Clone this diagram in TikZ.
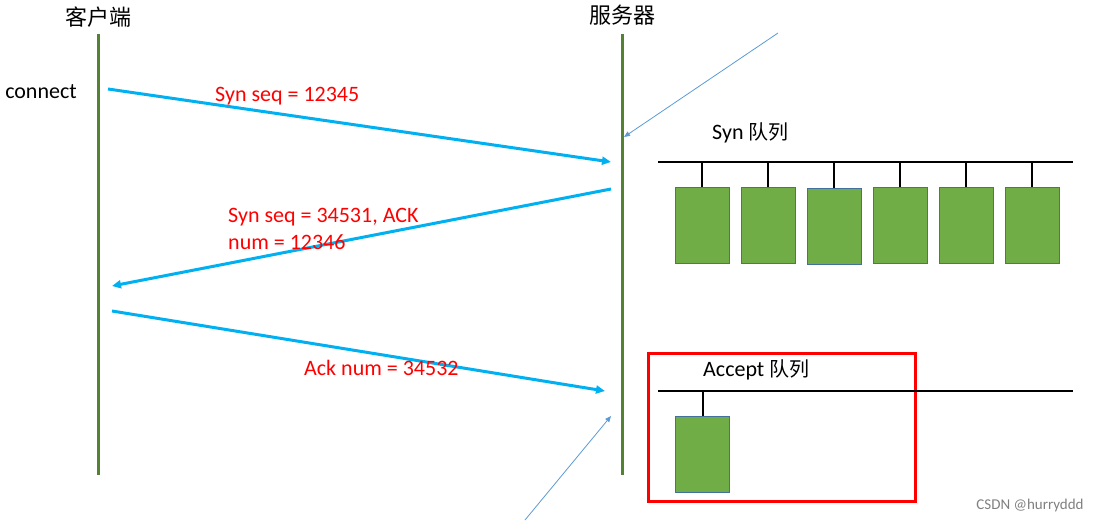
\documentclass[tikz,border=0pt]{standalone}
\usepackage{fontspec}
\setmainfont{Carlito}
\newfontfamily\cjk{Noto Sans CJK SC}
\usetikzlibrary{arrows.meta}
\definecolor{gline}{HTML}{548235}
\definecolor{cyanA}{HTML}{00B0F0}
\definecolor{thinB}{HTML}{5B9BD5}
\definecolor{boxG}{HTML}{70AD47}
\definecolor{boxB}{HTML}{41719C}
\begin{document}
\begin{tikzpicture}[x=1pt,y=-1pt,
  life/.style={gline,line width=3pt},
  msg/.style={cyanA,line width=3pt,-{Triangle[length=9pt,width=8pt]}},
  thin/.style={thinB,line width=0.8pt,-{Triangle[length=6pt,width=5pt]}},
  lbl/.style={red,font=\fontsize{22}{24}\selectfont,anchor=west,inner sep=0},
  q/.style={draw=boxB,fill=boxG,line width=1pt,minimum width=54pt,minimum height=76pt,inner sep=0},
  bar/.style={black,line width=2pt}]
\useasboundingbox (0,0) rectangle (1096,522);
\node[font=\cjk\fontsize{22}{24}\selectfont] (tc) at (98,17) {客户端};
\node[font=\cjk\fontsize{22}{24}\selectfont] (ts) at (622,15) {服务器};
\coordinate (c1) at (98,34); \coordinate (c2) at (98,475);
\coordinate (s1) at (622,34); \coordinate (s2) at (622,475);
\draw[life] (c1) -- (c2);
\draw[life] (s1) -- (s2);
\node[font=\fontsize{22}{24}\selectfont] (conn) at (41,92) {connect};
\coordinate (a1s) at (108,89); \coordinate (a1e) at (611,162);
\coordinate (a2s) at (611,189); \coordinate (a2e) at (112,286);
\coordinate (a3s) at (112,311); \coordinate (a3e) at (605,391);
\draw[msg] (a1s) -- (a1e);
\draw[msg] (a2s) -- (a2e);
\draw[msg] (a3s) -- (a3e);
\node[lbl] (l1) at (215,96) {Syn seq = 12345};
\node[lbl] (l2) at (228,217) {Syn seq = 34531, ACK};
\node[lbl] (l3) at (228,242) {num = 12346};
\node[lbl] (l4) at (304,368) {Ack num = 34532};
\coordinate (t1s) at (778,33); \coordinate (t1e) at (624,137);
\coordinate (t2s) at (525,520); \coordinate (t2e) at (611,416);
\draw[thin] (t1s) -- (t1e);
\draw[thin] (t2s) -- (t2e);
\node[font=\fontsize{22}{24}\selectfont,anchor=west,inner sep=0] (sq) at (712,133) {Syn {\cjk\fontsize{20}{22}\selectfont 队列}};
\coordinate (b1) at (658,162); \coordinate (b2) at (1073,162);
\draw[bar] (b1) -- (b2);
\foreach \i/\x/\y in {1/702/225,2/768/225,3/834/226,4/900/225,5/966/225,6/1032/225}{
  \node[q] (q\i) at (\x,\y) {};
  \draw[bar] (\x,162) -- (q\i.north);
}
\node[draw=red,line width=3pt,minimum width=267pt,minimum height=148pt,inner sep=0] (rb) at (781.5,427) {};
\node[font=\fontsize{22}{24}\selectfont,anchor=west,inner sep=0] (aq) at (703,370) {Accept {\cjk\fontsize{20}{22}\selectfont 队列}};
\coordinate (d1) at (658,391); \coordinate (d2) at (1073,391);
\draw[bar] (d1) -- (d2);
\node[q] (qa) at (702.5,454) {};
\draw[bar] (702.5,391) -- (qa.north);
\node[gray,font=\fontsize{15}{17}\selectfont] (wm) at (1030,505) {CSDN @hurryddd};
\end{tikzpicture}
\end{document}
